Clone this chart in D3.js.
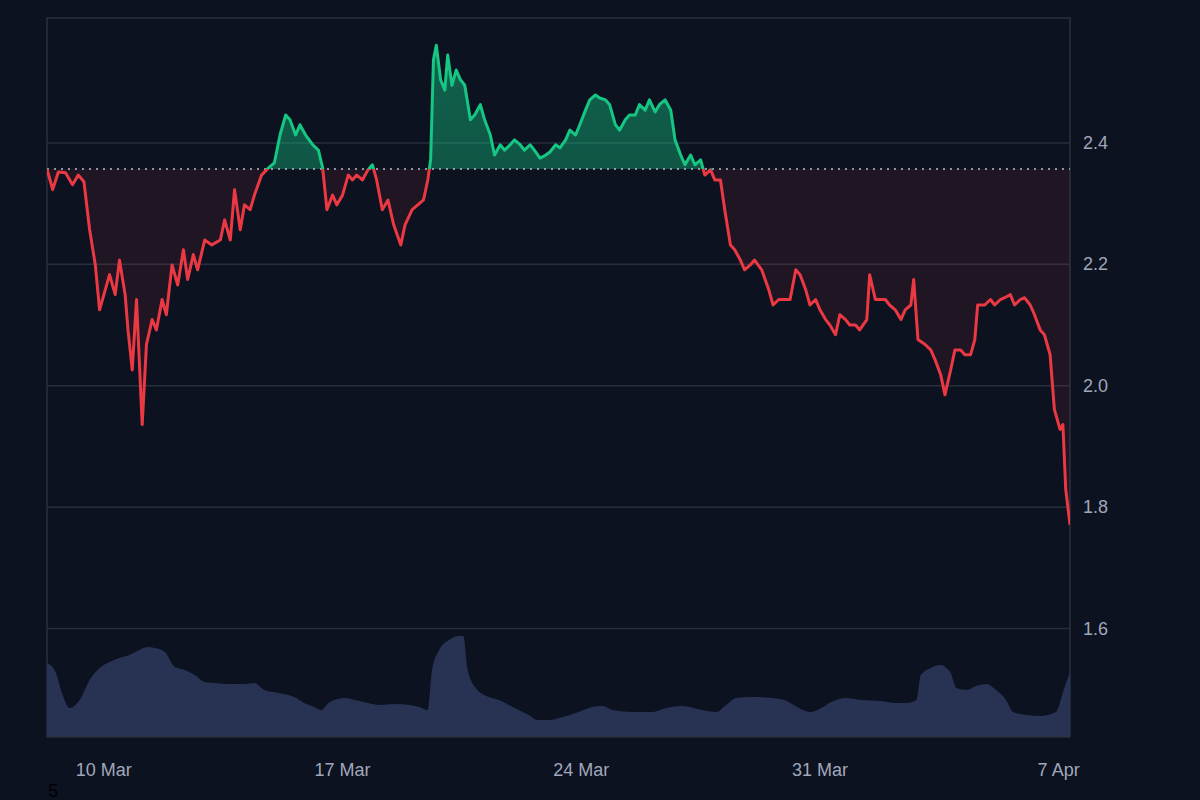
<!DOCTYPE html>
<html lang="en">
<head>
<meta charset="UTF-8">
<title>Price chart</title>
<script src="https://cdn.jsdelivr.net/npm/d3@7"></script>
<style>
  body { margin: 0; background: #0c1220; }
  svg text { font-family: "Liberation Sans", Arial, sans-serif; }
</style>
</head>
<body>
<svg width="1200" height="800"></svg>
<script>
// hours after 8 Mar 08:00 UTC, and price at that hour
var priceHours = [0,4,8,13,18,22,26,30,34,37,41,44,48,51,55,57,60,63,67,70,74,77,81,84,88,92,96,99,103,106,111,116,122,125,129,132,136,139,143,146,151,156,160,164,168,171,175,178,182,187,191,194,197,201,204,208,212,215,218,222,226,229,232,236,240,244,249,252,257,261,265,268,270,272,274,277,280,282,285,288,291,294,298,301,305,308,312,315,319,322,326,329,333,336,340,343,347,351,354,358,361,365,368,372,375,379,382,386,389,393,396,400,403,407,410,414,417,421,424,428,431,435,439,442,446,449,453,456,460,463,467,470,474,477,481,484,488,491,495,498,503,508,511,515,518,523,527,530,534,537,541,544,548,551,555,558,562,565,569,572,577,579,583,586,590,593,597,601,604,608,610,613,618,622,625,629,632,636,639,643,646,650,653,655,660,664,667,671,674,678,681,685,688,692,695,699,702,706,709,713,715,717,720];
var prices = [2.357,2.323,2.352,2.351,2.331,2.347,2.336,2.257,2.199,2.125,2.158,2.183,2.150,2.207,2.150,2.092,2.026,2.142,1.936,2.068,2.109,2.092,2.142,2.117,2.199,2.166,2.224,2.175,2.216,2.191,2.240,2.232,2.240,2.273,2.240,2.323,2.257,2.298,2.290,2.314,2.347,2.359,2.367,2.413,2.446,2.438,2.413,2.430,2.413,2.397,2.388,2.359,2.290,2.314,2.298,2.314,2.347,2.339,2.347,2.339,2.356,2.364,2.339,2.290,2.306,2.265,2.232,2.265,2.290,2.298,2.306,2.339,2.372,2.537,2.561,2.504,2.487,2.545,2.495,2.520,2.504,2.495,2.438,2.446,2.463,2.438,2.413,2.380,2.397,2.388,2.397,2.405,2.397,2.388,2.397,2.388,2.375,2.380,2.385,2.397,2.392,2.405,2.421,2.413,2.430,2.454,2.471,2.479,2.474,2.471,2.463,2.430,2.421,2.438,2.446,2.446,2.463,2.454,2.471,2.451,2.463,2.471,2.454,2.405,2.380,2.364,2.380,2.364,2.372,2.347,2.356,2.339,2.339,2.290,2.232,2.224,2.207,2.191,2.199,2.207,2.191,2.158,2.133,2.142,2.142,2.142,2.191,2.183,2.158,2.133,2.142,2.125,2.109,2.100,2.084,2.117,2.109,2.100,2.100,2.092,2.109,2.183,2.142,2.142,2.142,2.133,2.125,2.109,2.125,2.133,2.175,2.076,2.068,2.059,2.043,2.018,1.985,2.026,2.059,2.059,2.051,2.051,2.076,2.133,2.133,2.142,2.133,2.142,2.145,2.150,2.133,2.142,2.145,2.133,2.117,2.092,2.084,2.051,1.961,1.928,1.936,1.829,1.771];
var baseline = 2.357;

var volHours = [0,6,11,16,23,30,37,44,51,58,65,71,76,83,90,97,104,111,118,128,139,146,153,163,174,181,188,193,199,210,217,226,234,245,255,262,268,271,276,283,290,293,296,303,311,318,325,332,339,345,353,363,374,384,391,398,412,426,436,447,461,471,478,485,496,510,519,528,537,545,552,562,573,587,598,605,612,615,622,629,633,636,640,647,654,661,668,675,680,689,699,710,716,720];
var volumes = [74,65,42,29,37,57,69,75,79,82,87,90,89,85,70,67,62,55,54,53,53,54,47,44,40,34,30,27,35,39,37,34,32,33,32,30,27,67,87,97,101,101,67,47,40,37,32,27,22,17,17,20,25,30,31,27,25,25,29,31,27,25,32,39,40,39,37,30,25,29,35,39,37,36,34,34,37,62,69,72,69,64,49,47,51,53,47,37,25,22,21,25,49,65,77];

var tickDates = ["2025-03-10","2025-03-17","2025-03-24","2025-03-31","2025-04-07"];
var tickLabels = ["10 Mar","17 Mar","24 Mar","31 Mar","7 Apr"];
var priceTicks = [1.6,1.8,2.0,2.2,2.4];

var start = Date.UTC(2025,2,8,8);
function toDate(h){ return new Date(start + h*3600000); }

var L = 47, R = 1070, T = 18, B = 737;
var svg = d3.select('svg');
svg.append('rect').attr('width',1200).attr('height',800).attr('fill','#0c1220');

var x = d3.scaleUtc().domain([toDate(0), toDate(720)]).range([L, R]);
var y = d3.scaleLinear().domain([1.8 - 0.2*(737-507)/121.5, 2.4 + 0.2*(143-18)/121.5]).range([B, T]);
var yv = d3.scaleLinear().domain([0, 120]).range([B, B-120]);

// grid
svg.selectAll('.grid').data(priceTicks).enter().append('line')
    .attr('x1',L).attr('x2',R)
    .attr('y1',function(d){ return y(d) }).attr('y2',function(d){ return y(d) })
    .attr('stroke','#272e3d').attr('stroke-width',1.5);

// frame
svg.append('path').attr('d','M'+L+','+B+'V'+T+'H'+R+'V'+B)
    .attr('fill','none').attr('stroke','#2a3140').attr('stroke-width',1.5);

// volume
var vdata = volHours.map(function(h,i){ return {t:toDate(h), v:volumes[i]} });
svg.append('path').datum(vdata)
    .attr('d', d3.area().x(function(d){ return x(d.t) }).y0(B).y1(function(d){ return yv(d.v) }).curve(d3.curveMonotoneX))
    .attr('fill','#283252');
svg.append('line').attr('x1',L).attr('x2',R).attr('y1',B).attr('y2',B).attr('stroke','#2a3140').attr('stroke-width',1.5);

// price
var pdata = priceHours.map(function(h,i){ return {t:toDate(h), p:prices[i]} });
var by = y(baseline);
var defs = svg.append('defs');
defs.append('clipPath').attr('id','above').append('rect').attr('x',L).attr('y',T).attr('width',R-L).attr('height',by-T);
defs.append('clipPath').attr('id','below').append('rect').attr('x',L).attr('y',by).attr('width',R-L).attr('height',B-by);
var gg = defs.append('linearGradient').attr('id','gUp').attr('x1',0).attr('x2',0).attr('y1',0).attr('y2',1);
gg.append('stop').attr('offset','0%').attr('stop-color','#16c784').attr('stop-opacity',0.45);
gg.append('stop').attr('offset','100%').attr('stop-color','#16c784').attr('stop-opacity',0.15);

var area = d3.area().x(function(d){ return x(d.t) }).y0(by).y1(function(d){ return y(d.p) });
var line = d3.line().x(function(d){ return x(d.t) }).y(function(d){ return y(d.p) });

svg.append('path').datum(pdata).attr('d',area).attr('fill','url(#gUp)').attr('clip-path','url(#above)');
svg.append('path').datum(pdata).attr('d',area).attr('fill','rgba(234,57,67,0.09)').attr('clip-path','url(#below)');

svg.append('line').attr('x1',L).attr('x2',R).attr('y1',by).attr('y2',by)
    .attr('stroke','#b8bec9').attr('stroke-width',1.5).attr('stroke-dasharray','2,5');

svg.append('path').datum(pdata).attr('d',line).attr('fill','none')
    .attr('stroke','#16c784').attr('stroke-width',3).attr('stroke-linejoin','round').attr('clip-path','url(#above)');
svg.append('path').datum(pdata).attr('d',line).attr('fill','none')
    .attr('stroke','#ea3943').attr('stroke-width',3).attr('stroke-linejoin','round').attr('clip-path','url(#below)');

// axes labels
svg.selectAll('.pl').data(priceTicks).enter().append('text')
    .attr('x',1083).attr('y',function(d){ return y(d)+6 })
    .attr('fill','#a1a7bb').attr('font-size',18)
    .text(function(d){ return d.toFixed(1) });

svg.selectAll('.xl').data(tickDates).enter().append('text')
    .attr('x',function(d){ return x(new Date(d+'T00:00:00Z')) })
    .attr('y',776).attr('text-anchor','middle')
    .attr('fill','#a1a7bb').attr('font-size',18)
    .text(function(d,i){ return tickLabels[i] });

svg.append('text').attr('x',48).attr('y',797).attr('fill','#000').attr('font-size',18).text('5');
</script>
</body>
</html>
